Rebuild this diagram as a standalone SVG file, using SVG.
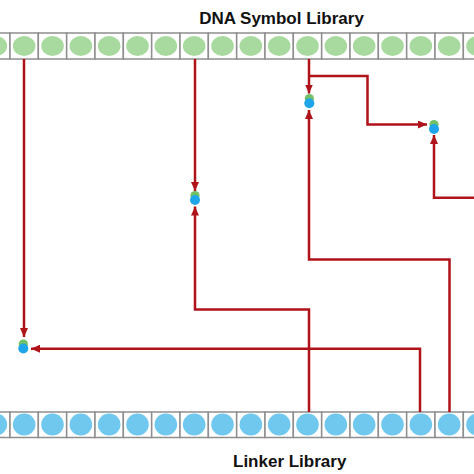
<svg xmlns="http://www.w3.org/2000/svg" xmlns:xlink="http://www.w3.org/1999/xlink" width="474" height="474" viewBox="0 0 474 474">
<style>
.cell{fill:#fff;stroke:#8e8e8e;stroke-width:1.5}
.sym{fill:#a8d99e}
.lnk{fill:#71c8ef}
.title{font-family:"Liberation Sans",Arial,sans-serif;font-weight:bold;font-size:17px;fill:#111}
.wire{fill:none;stroke:#b0121a;stroke-width:2.5;stroke-linejoin:miter}
.pg{fill:#74c066}
.pb{fill:#1fa6ea}
</style>
<defs>
<marker id="ah" markerUnits="userSpaceOnUse" markerWidth="9" markerHeight="8" refX="9" refY="4" orient="auto">
<path d="M0,0 L9,4 L0,8 z" fill="#b0121a"/>
</marker>
<g id="topcell"><rect class="cell" x="0" y="33" width="28.33" height="26"/><ellipse class="sym" cx="14.17" cy="46" rx="11.3" ry="10"/></g>
<g id="botcell"><rect class="cell" x="0" y="412" width="28.33" height="25.5"/><ellipse class="lnk" cx="14.17" cy="424.5" rx="11.3" ry="11"/></g>
</defs>
<rect width="474" height="474" fill="#fff"/>
<g id="symbol-library">
<text class="title" x="281.5" y="24" text-anchor="middle">DNA Symbol Library</text>
<use xlink:href="#topcell" x="-18.33"/><use xlink:href="#topcell" x="10"/><use xlink:href="#topcell" x="38.33"/><use xlink:href="#topcell" x="66.67"/><use xlink:href="#topcell" x="95"/><use xlink:href="#topcell" x="123.33"/><use xlink:href="#topcell" x="151.67"/><use xlink:href="#topcell" x="180"/><use xlink:href="#topcell" x="208.33"/><use xlink:href="#topcell" x="236.67"/><use xlink:href="#topcell" x="265"/><use xlink:href="#topcell" x="293.33"/><use xlink:href="#topcell" x="321.67"/><use xlink:href="#topcell" x="350"/><use xlink:href="#topcell" x="378.33"/><use xlink:href="#topcell" x="406.67"/><use xlink:href="#topcell" x="435"/><use xlink:href="#topcell" x="463.33"/>
</g>
<g id="linker-library">
<use xlink:href="#botcell" x="-18.33"/><use xlink:href="#botcell" x="10"/><use xlink:href="#botcell" x="38.33"/><use xlink:href="#botcell" x="66.67"/><use xlink:href="#botcell" x="95"/><use xlink:href="#botcell" x="123.33"/><use xlink:href="#botcell" x="151.67"/><use xlink:href="#botcell" x="180"/><use xlink:href="#botcell" x="208.33"/><use xlink:href="#botcell" x="236.67"/><use xlink:href="#botcell" x="265"/><use xlink:href="#botcell" x="293.33"/><use xlink:href="#botcell" x="321.67"/><use xlink:href="#botcell" x="350"/><use xlink:href="#botcell" x="378.33"/><use xlink:href="#botcell" x="406.67"/><use xlink:href="#botcell" x="435"/><use xlink:href="#botcell" x="463.33"/>
<text class="title" x="233" y="467">Linker Library</text>
</g>
<g id="connectors">
<path class="wire" d="M24,59 V337" marker-end="url(#ah)"/>
<path class="wire" d="M420,412 V348.7 H31" stroke-width="2" marker-end="url(#ah)"/>
<path class="wire" d="M195,59 V191" marker-end="url(#ah)"/>
<path class="wire" d="M309,412 V309.5 H195 V206.5" marker-end="url(#ah)"/>
<path class="wire" d="M309,59 V93.5" marker-end="url(#ah)"/>
<path class="wire" d="M309,76 H367.5 V124.5 H427" marker-end="url(#ah)"/>
<path class="wire" d="M449.5,412 V259.5 H309 V110" marker-end="url(#ah)"/>
<path class="wire" d="M474,197.7 H434 V135" marker-end="url(#ah)"/>
</g>
<g id="pair-1"><circle class="pg" cx="23.3" cy="344" r="4.6"/><circle class="pb" cx="23.3" cy="348.5" r="5"/></g>
<g id="pair-2"><circle class="pg" cx="195" cy="195.5" r="4.6"/><circle class="pb" cx="195" cy="200" r="5"/></g>
<g id="pair-3"><circle class="pg" cx="309.3" cy="98.5" r="4.6"/><circle class="pb" cx="309.3" cy="103.3" r="5"/></g>
<g id="pair-4"><circle class="pg" cx="434" cy="124.5" r="4.6"/><circle class="pb" cx="434" cy="129" r="5"/></g>
</svg>
